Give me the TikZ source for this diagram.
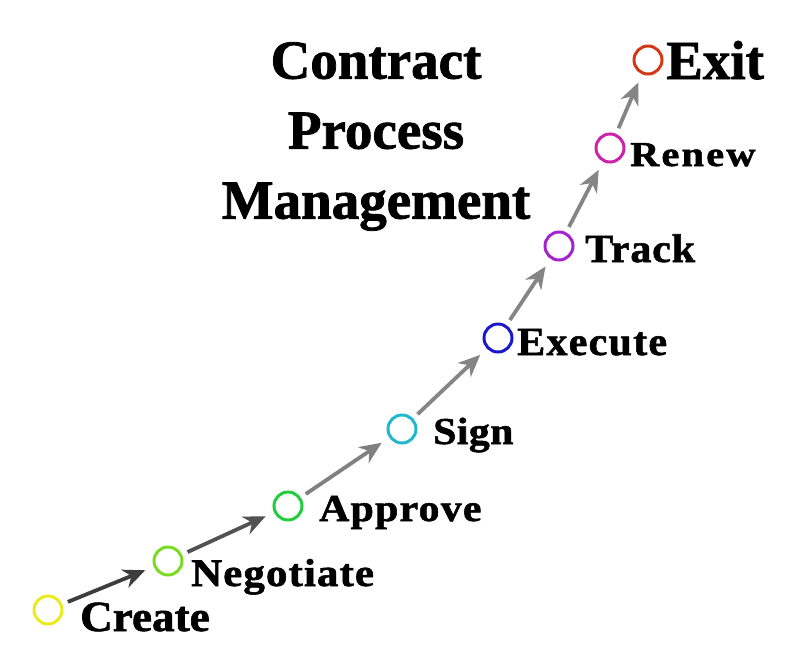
\documentclass[tikz,border=0pt]{standalone}
\usepackage{fontspec}
\setmainfont{Liberation Serif}
\usetikzlibrary{arrows.meta}
\definecolor{cCreate}{HTML}{EAEA1E}
\definecolor{cNeg}{HTML}{7ADB22}
\definecolor{cAppr}{HTML}{22CC3E}
\definecolor{cSign}{HTML}{22B8CC}
\definecolor{cExec}{HTML}{1A1ACC}
\definecolor{cTrack}{HTML}{A622CC}
\definecolor{cRenew}{HTML}{CC22AA}
\definecolor{cExit}{HTML}{D03A14}
\tikzset{
  stepdot/.style={circle, draw=#1, line width=3pt, minimum size=28pt, inner sep=0pt},
  steplabel/.style={anchor=base west, inner sep=0pt, text=black},
  flow/.style={draw=#1, line width=3.8pt, shorten <=6pt, shorten >=9pt,
    -{Stealth[length=22pt,width=19pt,inset=7pt]}},
}
% size, horizontal scale, letter spacing, text
\newcommand{\lbl}[4]{\scalebox{#2}[1]{\fontsize{#1}{#1}\selectfont\bfseries\addfontfeatures{LetterSpace=#3,FakeBold=1.4}#4}}
\begin{document}
\begin{tikzpicture}[x=1pt,y=-1pt]
\path[use as bounding box] (0,0) rectangle (800,665);
% title
\node[anchor=north, align=center, inner sep=0pt, font=\fontsize{55}{70}\selectfont\bfseries\addfontfeatures{FakeBold=1.4}] (title) at (376,42)
  {Contract\\Process\\Management};
% circles
\node[stepdot=cCreate] (create) at (48,610) {};
\node[stepdot=cNeg]    (neg)    at (168,561) {};
\node[stepdot=cAppr]   (appr)   at (288,506) {};
\node[stepdot=cSign]   (sign)   at (402,429) {};
\node[stepdot=cExec]   (exec)   at (498,338) {};
\node[stepdot=cTrack]  (track)  at (559,246) {};
\node[stepdot=cRenew]  (renew)  at (610,148) {};
\node[stepdot=cExit]   (exit)   at (648,60) {};
% labels
\node[steplabel] (lcreate) at (80,631)  {\lbl{43}{1.05}{0}{Create}};
\node[steplabel] (lneg)    at (191,586) {\lbl{39}{1.1}{2.6}{Negotiate}};
\node[steplabel] (lappr)   at (319,521) {\lbl{38}{1.1}{3}{Approve}};
\node[steplabel] (lsign)   at (433,444) {\lbl{38}{1.1}{1}{Sign}};
\node[steplabel] (lexec)   at (517,355) {\lbl{40}{1.05}{3}{Execute}};
\node[steplabel] (ltrack)  at (585,262) {\lbl{40}{1.05}{2}{Track}};
\node[steplabel] (lrenew)  at (630,166) {\lbl{35}{1.15}{5.6}{Renew}};
\node[steplabel] (lexit)   at (666,79)  {\lbl{55}{1}{0}{Exit}};
% connectors
\draw[flow={black!76}] (create) -- (neg);
\draw[flow={black!68}] (neg) -- (appr);
\draw[flow={black!50}] (appr) -- (sign);
\draw[flow={black!48}] (sign) -- (exec);
\draw[flow={black!48}] (exec) -- (track);
\draw[flow={black!48}] (track) -- (renew);
\draw[flow={black!48}] (renew) -- (exit);
\end{tikzpicture}
\end{document}
